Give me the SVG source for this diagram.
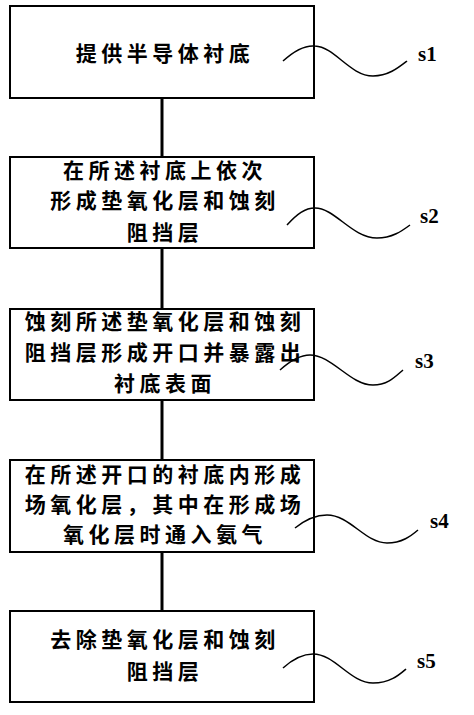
<svg xmlns="http://www.w3.org/2000/svg" width="474" height="715" viewBox="0 0 474 715">
<style>
.box{fill:#fff;stroke:#000;stroke-width:2}
.t{font-family:"Noto Sans CJK SC","Noto Sans CJK JP",sans-serif;font-weight:bold;font-size:21px;letter-spacing:4.5px;text-anchor:middle;fill:#000}
.lab{font-family:"Liberation Serif",serif;font-weight:bold;font-size:21px;fill:#000}
.sq{fill:none;stroke:#000;stroke-width:1.5}
.con{stroke:#000;stroke-width:3}
</style>
<rect width="474" height="715" fill="#fff"/>
<g id="connectors">
<line class="con" x1="162" y1="98" x2="162" y2="157"/>
<line class="con" x1="162" y1="248" x2="162" y2="309"/>
<line class="con" x1="162" y1="400" x2="162" y2="460"/>
<line class="con" x1="162" y1="552" x2="162" y2="611"/>
</g>
<g id="s1">
<rect class="box" x="10" y="6" width="304" height="92"/>
<text class="t" x="165" y="61">提供半导体衬底</text>
<path class="sq" d="M283,61 C295,50 305,45 315,46 C335,47 350,76 373,76 C388,76 398,68 407,61"/>
<text class="lab" x="418" y="61">s1</text>
</g>
<g id="s2">
<rect class="box" x="10" y="157" width="304" height="91"/>
<text class="t" x="165" y="178">在所述衬底上依次</text>
<text class="t" x="165" y="208">形成垫氧化层和蚀刻</text>
<text class="t" x="165" y="240">阻挡层</text>
<path class="sq" d="M287,225 C297,214 305,208 315,208 C335,208 352,238 377,238 C392,238 402,231 410,225"/>
<text class="lab" x="420" y="223">s2</text>
</g>
<g id="s3">
<rect class="box" x="10" y="309" width="304" height="91"/>
<text class="t" x="165" y="329">蚀刻所述垫氧化层和蚀刻</text>
<text class="t" x="165" y="360">阻挡层形成开口并暴露出</text>
<text class="t" x="165" y="391">衬底表面</text>
<path class="sq" d="M280,370 C290,361 300,355 310,355 C332,355 350,385 373,385 C388,385 396,376 403,370"/>
<text class="lab" x="415" y="368">s3</text>
</g>
<g id="s4">
<rect class="box" x="10" y="460" width="304" height="92"/>
<text class="t" x="165" y="482">在所述开口的衬底内形成</text>
<text class="t" x="165" y="512">场氧化层，其中在形成场</text>
<text class="t" x="165" y="542">氧化层时通入氨气</text>
<path class="sq" d="M295,528 C305,520 315,515 327,515 C350,515 365,543 387,543 C402,543 411,536 418,530"/>
<text class="lab" x="430" y="528">s4</text>
</g>
<g id="s5">
<rect class="box" x="10" y="611" width="304" height="91"/>
<text class="t" x="165" y="647">去除垫氧化层和蚀刻</text>
<text class="t" x="165" y="679">阻挡层</text>
<path class="sq" d="M283,668 C293,659 303,654 313,654 C335,654 350,683 373,683 C390,683 399,675 406,669"/>
<text class="lab" x="417" y="668">s5</text>
</g>
</svg>
